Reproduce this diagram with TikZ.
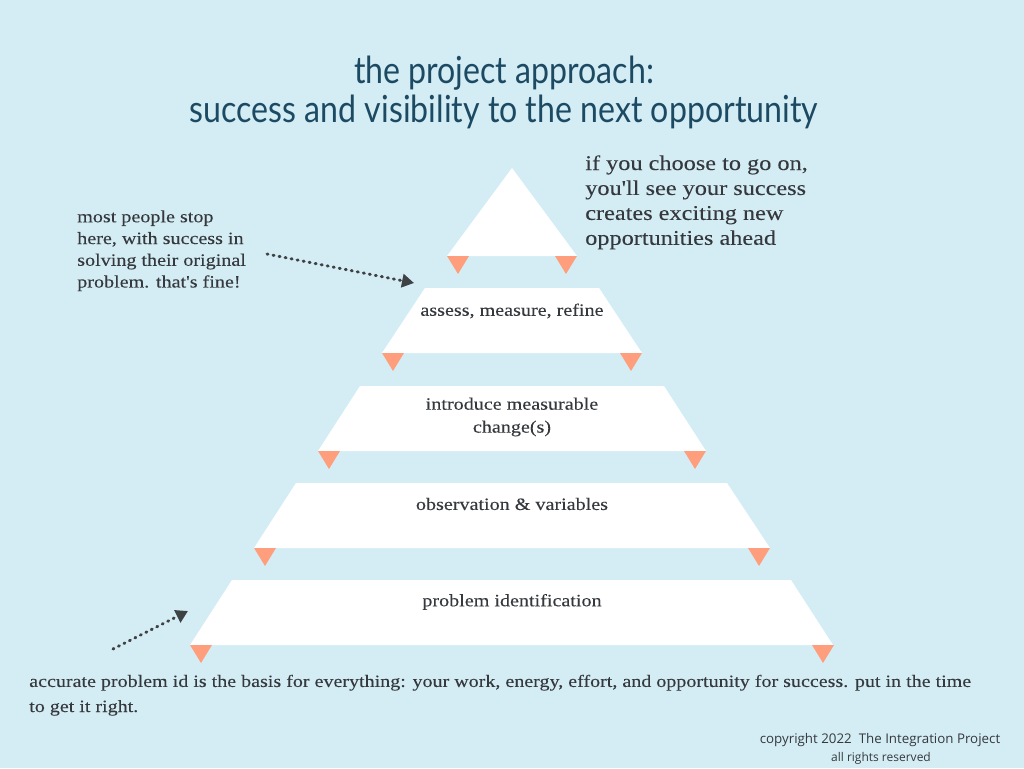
\documentclass[tikz,border=0pt]{standalone}
\usepackage{fontspec}
\setmainfont{Liberation Serif}
\newfontfamily\titlefont[FakeStretch=0.86]{Lato}
\newfontfamily\bodyfont[FakeStretch=1.16,FakeBold=0.08]{Liberation Serif}
\newfontfamily\copyfont{Open Sans}
\usetikzlibrary{arrows.meta}
\definecolor{bgblue}{HTML}{D4EDF5}
\definecolor{peach}{HTML}{FF9E7D}
\definecolor{titleblue}{HTML}{1D4A63}
\definecolor{inktext}{HTML}{35393D}
\definecolor{arrowgrey}{HTML}{3F4245}
\tikzset{
  x=0.75pt,y=-0.75pt,
  tier/.style={fill=white,draw=none},
  tip/.style={fill=peach,draw=none},
  tierlabel/.style={inner sep=0pt,align=center,text=inktext,font=\bodyfont\fontsize{13}{17.2}\selectfont},
  notelabel/.style={inner sep=0pt,align=left,anchor=north west,text=inktext},
  titlelabel/.style={inner sep=0pt,align=center,text=titleblue,font=\titlefont\fontsize{28}{29.2}\selectfont},
  pointer/.style={draw=arrowgrey,line width=2.2pt,line cap=round,dash pattern=on 0.8pt off 3.8pt,-{Triangle[length=9pt,width=10pt,fill=arrowgrey]}},
}
\begin{document}
\begin{tikzpicture}
\useasboundingbox (0,0) rectangle (1024,768);
\fill[bgblue] (0,0) rectangle (1024,768);
% tiers
\fill[tier] (512,168) -- (577,256) -- (447,256) -- cycle;
\fill[tier] (425,288) -- (599,288) -- (642,353) -- (382,353) -- cycle;
\fill[tier] (360,386) -- (664,386) -- (706,451) -- (318,451) -- cycle;
\fill[tier] (296,483) -- (727,483) -- (770,548) -- (254,548) -- cycle;
\fill[tier] (232,580) -- (791,580) -- (833,645) -- (190,645) -- cycle;
% tips
\foreach \xa/\ya in {447/256,555/256,382/353,620/353,318/451,684/451,254/548,748/548,190/645,812/645}{
  \fill[tip] (\xa,\ya) -- ++(22,0) -- ++(-11,18) -- cycle;
}
% title
\node[titlelabel] (title) at (504,92) {the project approach:\\success and visibility to the next opportunity};
% labels
\node[tierlabel] (assess) at (512,311) {assess, measure, refine};
\node[tierlabel] (change) at (512,417) {introduce measurable\\change(s)};
\node[tierlabel] (observe) at (512,504) {observation \& variables};
\node[tierlabel] (problem) at (512,602) {problem identification};
% notes
\node[notelabel,font=\bodyfont\fontsize{15.7}{18.7}\selectfont] (goon) at (585,155) {if you choose to go on,\\you'll see your success\\creates exciting new\\opportunities ahead};
\node[notelabel,font=\bodyfont\fontsize{13}{16.3}\selectfont] (stop) at (77,210) {most people stop\\here, with success in\\solving their original\\problem. that's fine!};
\node[notelabel,font=\bodyfont\fontsize{12.95}{18.8}\selectfont] (basis) at (29,674.5) {accurate problem id is the basis for everything: your work, energy, effort, and opportunity for success. put in the time\\to get it right.};
\node[inner sep=0pt,text=inktext,font=\copyfont\fontsize{10}{12}\selectfont] (copy) at (880,740) {copyright 2022\ \ The Integration Project};
\node[inner sep=0pt,text=inktext,font=\copyfont\fontsize{9}{10}\selectfont] (rights) at (881,758) {all rights reserved};
% pointers
\coordinate (stopfrom) at (267,254);
\coordinate (stopto) at (414,283);
\coordinate (basisfrom) at (113,649);
\coordinate (basisto) at (188,611);
\draw[pointer] (stopfrom) -- (stopto);
\draw[pointer] (basisfrom) -- (basisto);
\end{tikzpicture}
\end{document}
